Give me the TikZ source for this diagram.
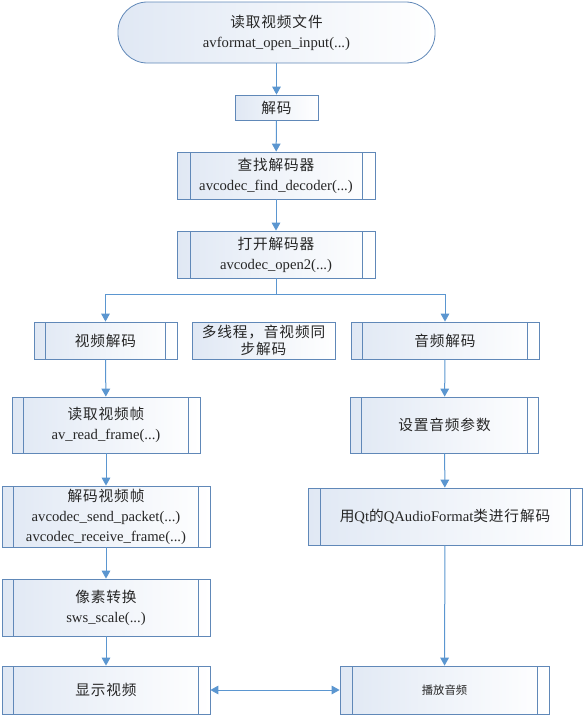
\documentclass[tikz,border=0pt]{standalone}
\usepackage{fontspec}
\setmainfont{Liberation Serif}
\newfontfamily\cjk[LetterSpace=6]{Noto Sans CJK SC}
\newcommand{\zh}[1]{{\cjk #1}}
\usetikzlibrary{arrows.meta,positioning}
\definecolor{boxline}{RGB}{96,136,184}
\definecolor{flowline}{RGB}{91,150,208}
\definecolor{boxfill}{RGB}{224,232,244}
\tikzset{
  box/.style={draw=boxline, line width=0.6pt, left color=boxfill, right color=white, align=center, inner sep=2pt, font=\fontsize{11}{15}\selectfont, text=black!85},
  procbox/.style={box, path picture={
      \draw[boxline, line width=0.6pt]
        ([xshift=#1]path picture bounding box.north west) -- ([xshift=#1]path picture bounding box.south west)
        ([xshift=-#1]path picture bounding box.north east) -- ([xshift=-#1]path picture bounding box.south east);}},
  procbox/.default=8.5pt,
  termbox/.style={box, rounded corners=22pt},
  flow/.style={-{Triangle[length=6pt,width=6.5pt]}, draw=flowline, line width=0.75pt},
  bothflow/.style={{Triangle[length=6pt,width=6.5pt]}-{Triangle[length=6pt,width=6.5pt]}, draw=flowline, line width=0.75pt}
}
\begin{document}
\begin{tikzpicture}[x=0.75pt,y=-0.75pt]
\useasboundingbox (0,0) rectangle (583,715);
% start and common part
\node[termbox, minimum width=237.75pt, minimum height=45.75pt] (readfile) at (276.5,32.5) {\zh{读取视频文件}\\avformat\_open\_input(...)};
\node[box, minimum width=62.25pt, minimum height=18.75pt] (decode) at (276.5,107.5) {\zh{解码}};
\node[procbox=9.75pt, minimum width=148.5pt, minimum height=35.25pt] (finddec) at (276,175.5) {\zh{查找解码器}\\avcodec\_find\_decoder(...)};
\node[procbox=9.75pt, minimum width=148.5pt, minimum height=35.25pt] (opendec) at (276,254.5) {\zh{打开解码器}\\avcodec\_open2(...)};
\coordinate (split) at (276,294);
% three branches
\node[procbox, minimum width=107.25pt, minimum height=27.75pt] (vdec) at (105.5,340.5) {\zh{视频解码}};
\node[box, minimum width=107.25pt, minimum height=27.75pt, font=\fontsize{11}{13}\selectfont] (sync) at (263.5,340.5) {\zh{多线程，音视频同}\\\zh{步解码}};
\node[procbox, minimum width=141pt, minimum height=27.75pt] (adec) at (445,340.5) {\zh{音频解码}};
% video side
\node[procbox, minimum width=141pt, minimum height=42pt] (readframe) at (106,425) {\zh{读取视频帧}\\av\_read\_frame(...)};
\node[procbox, minimum width=156pt, minimum height=45.75pt] (decframe) at (106,516.5) {\zh{解码视频帧}\\avcodec\_send\_packet(...)\\avcodec\_receive\_frame(...)};
\node[procbox, minimum width=156pt, minimum height=42.75pt] (convert) at (106,607.5) {\zh{像素转换}\\sws\_scale(...)};
\node[procbox, minimum width=156pt, minimum height=36pt] (showvid) at (106,690) {\zh{显示视频}};
% audio side
\node[procbox, minimum width=141pt, minimum height=42pt] (setparam) at (444.5,425) {\zh{设置音频参数}};
\node[procbox=9pt, minimum width=205.5pt, minimum height=42.75pt] (qtfmt) at (445,516.5) {\zh{用}Qt\zh{的}QAudioFormat\zh{类进行解码}};
\node[procbox=9pt, minimum width=156.75pt, minimum height=36pt, font=\fontsize{8.5}{10}\selectfont] (playaud) at (444.5,690) {{\fontspec{Noto Sans CJK SC}播放音频}};
% connectors
\draw[flow] (readfile) -- (decode);
\draw[flow] (decode) -- (finddec);
\draw[flow] (finddec) -- (opendec);
\draw[draw=flowline, line width=0.75pt] (opendec) -- (split);
\draw[flow] (split) -| (vdec.north);
\draw[flow] (split) -| (adec.north);
\draw[flow] (vdec) -- (readframe);
\draw[flow] (readframe) -- (decframe);
\draw[flow] (decframe) -- (convert);
\draw[flow] (convert) -- (showvid);
\draw[flow] (adec) -- (setparam);
\draw[flow] (setparam) -- (qtfmt);
\draw[flow] (qtfmt) -- (playaud);
\draw[bothflow] (showvid) -- (playaud);
\end{tikzpicture}
\end{document}
